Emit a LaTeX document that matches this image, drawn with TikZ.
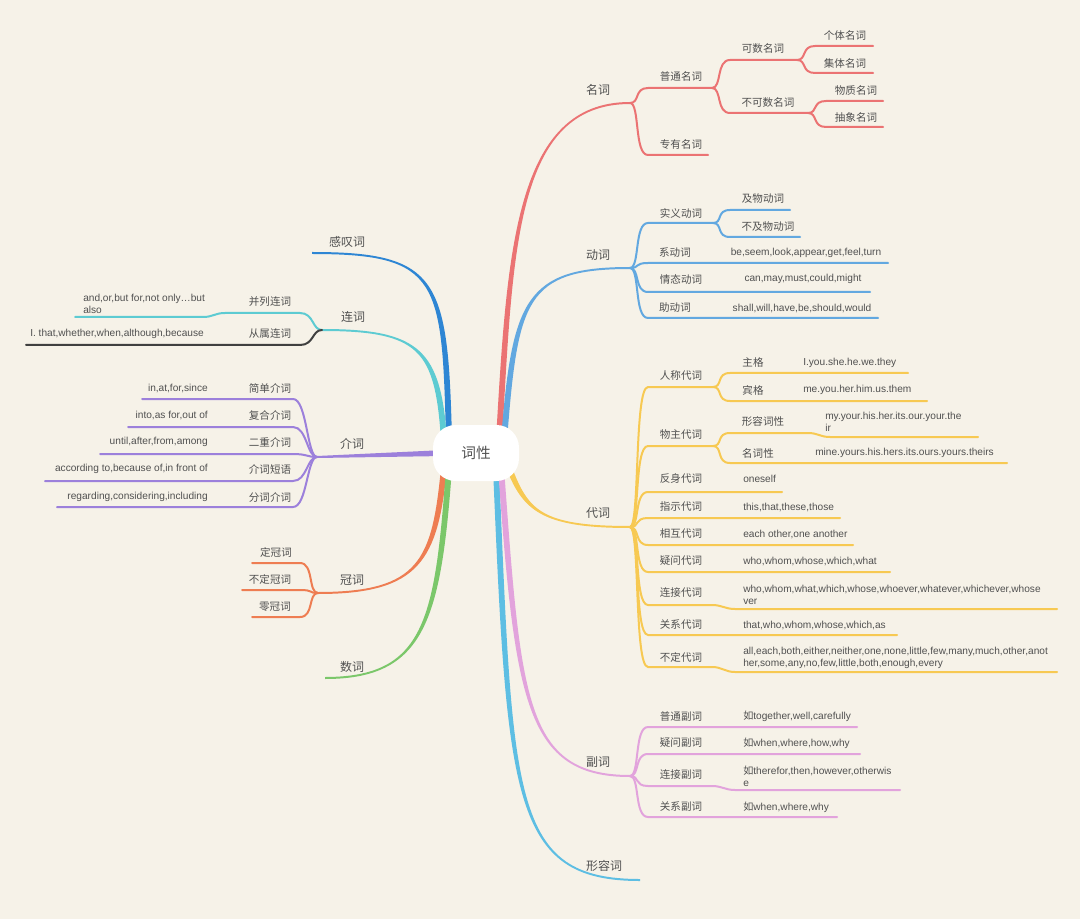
\documentclass[tikz,border=0pt]{standalone}
\usepackage{fontspec}
\setmainfont{Liberation Sans}
\newfontfamily\cjk{Noto Sans CJK SC}
\usetikzlibrary{calc}
\definecolor{bg}{HTML}{F6F2E8}
\definecolor{txt}{HTML}{505050}
\definecolor{cRed}{HTML}{EB7373}
\definecolor{cBlue}{HTML}{62A8E0}
\definecolor{cYellow}{HTML}{F7C952}
\definecolor{cPink}{HTML}{E2A3DC}
\definecolor{cCyan}{HTML}{5DBEE3}
\definecolor{cDeep}{HTML}{2E86D4}
\definecolor{cTeal}{HTML}{5DCBD2}
\definecolor{cPurple}{HTML}{9C80DB}
\definecolor{cOrange}{HTML}{EE7D52}
\definecolor{cGreen}{HTML}{7BC76A}
\definecolor{cDark}{HTML}{404040}
% tapered main branch: outer edge pairs x-w with y-w
\newcommand\taperA[5]{\fill[#1] ($#2+(-3,0)$) .. controls ($#3+(-3,0)$) and ($#4+(0,-1)$) .. ($#5+(0,-1)$) -- ($#5+(0,1)$) .. controls ($#4+(0,1)$) and ($#3+(3,0)$) .. ($#2+(3,0)$) -- cycle;}
% tapered main branch: pairs x-w with y+w
\newcommand\taperB[5]{\fill[#1] ($#2+(-3,0)$) .. controls ($#3+(-3,0)$) and ($#4+(0,1)$) .. ($#5+(0,1)$) -- ($#5+(0,-1)$) .. controls ($#4+(0,-1)$) and ($#3+(3,0)$) .. ($#2+(3,0)$) -- cycle;}
\begin{document}
\begin{tikzpicture}[x=0.75pt,y=-0.75pt,
  cn/.style={font=\cjk\fontsize{7.9}{9.5}\selectfont,text=txt,inner sep=0pt},
  cnbig/.style={font=\cjk\fontsize{9}{11}\selectfont,text=txt,inner sep=0pt},
  en/.style={font=\fontsize{7.6}{9}\selectfont,text=txt,inner sep=0pt,align=left},
  sub/.style={line width=1.5pt,line cap=round}]
\fill[bg] (0,0) rectangle (1080,919);
\useasboundingbox (0,0) rectangle (1080,919);

% fork points
\coordinate (fN) at (630,103);
\coordinate (fV) at (630,268);
\coordinate (fP) at (630,527);
\coordinate (fAdv) at (630,776);
\coordinate (eAdj) at (640,880);
\coordinate (eGt) at (312,253);
\coordinate (fC) at (322,330);
\coordinate (fPr) at (317,457);
\coordinate (fA) at (318,593);
\coordinate (eNum) at (325,678);

% ---------- main branches ----------
\taperA{cRed}{(499,440)}{(510,250)}{(515,103)}{(fN)}
\taperA{cBlue}{(504,440)}{(515,300)}{(525,268)}{(fV)}
\taperB{cYellow}{(508,465)}{(525,510)}{(540,527)}{(fP)}
\taperB{cCyan}{(496,468)}{(510,800)}{(512,880)}{(eAdj)}
\taperB{cPink}{(501,468)}{(518,700)}{(525,776)}{(fAdv)}
\taperB{cDeep}{(449,440)}{(445,280)}{(440,253)}{(eGt)}
\taperB{cTeal}{(444,440)}{(438,350)}{(420,330)}{(fC)}
\taperA{cOrange}{(444,468)}{(435,560)}{(420,593)}{(fA)}
\taperA{cGreen}{(449,468)}{(438,620)}{(425,678)}{(eNum)}
\fill[cPurple] (445,450) -- ($(fPr)+(0,-1)$) -- ($(fPr)+(0,1)$) -- (445,456) -- cycle;

% ---------- 名词 ----------
\draw[sub,cRed] (fN) .. controls +(10,0) and +(-14,0) .. (648,88) -- (712,88) coordinate (fNa);
\draw[sub,cRed] (fN) .. controls +(10,0) and +(-14,0) .. (648,155) -- (708,155);
\draw[sub,cRed] (fNa) .. controls +(10,0) and +(-14,0) .. (730,60) -- (797,60) coordinate (fNb);
\draw[sub,cRed] (fNa) .. controls +(10,0) and +(-14,0) .. (730,113) -- (808,113) coordinate (fNc);
\draw[sub,cRed] (fNb) .. controls +(10,0) and +(-14,0) .. (815,46) -- (873,46);
\draw[sub,cRed] (fNb) .. controls +(10,0) and +(-14,0) .. (815,73) -- (873,73);
\draw[sub,cRed] (fNc) .. controls +(10,0) and +(-14,0) .. (826,101) -- (883,101);
\draw[sub,cRed] (fNc) .. controls +(10,0) and +(-14,0) .. (826,127) -- (883,127);

% ---------- 动词 ----------
\draw[sub,cBlue] (fV) .. controls +(10,0) and +(-14,0) .. (648,223) -- (713,223) coordinate (fVa);
\draw[sub,cBlue] (fVa) .. controls +(10,0) and +(-14,0) .. (730,210) -- (790,210);
\draw[sub,cBlue] (fVa) .. controls +(10,0) and +(-14,0) .. (730,237) -- (800,237);
\draw[sub,cBlue] (fV) .. controls +(10,0) and +(-14,0) .. (648,263) -- (888,263);
\draw[sub,cBlue] (fV) .. controls +(10,0) and +(-14,0) .. (648,292) -- (870,292);
\draw[sub,cBlue] (fV) .. controls +(10,0) and +(-14,0) .. (648,318) -- (878,318);

% ---------- 代词 ----------
\draw[sub,cYellow] (fP) .. controls +(10,0) and +(-14,0) .. (648,387) -- (713,387) coordinate (fPa);
\draw[sub,cYellow] (fPa) .. controls +(10,0) and +(-14,0) .. (730,373) -- (908,373);
\draw[sub,cYellow] (fPa) .. controls +(10,0) and +(-14,0) .. (730,401) -- (927,401);
\draw[sub,cYellow] (fP) .. controls +(10,0) and +(-14,0) .. (648,446) -- (713,446) coordinate (fPb);
\draw[sub,cYellow] (fPb) .. controls +(10,0) and +(-14,0) .. (730,433) -- (808,433) .. controls +(10,0) and +(-10,0) .. (830,437) -- (978,437);
\draw[sub,cYellow] (fPb) .. controls +(10,0) and +(-14,0) .. (730,463) -- (1007,463);
\draw[sub,cYellow] (fP) .. controls +(10,0) and +(-14,0) .. (648,492) -- (782,492);
\draw[sub,cYellow] (fP) .. controls +(10,0) and +(-14,0) .. (648,518) -- (840,518);
\draw[sub,cYellow] (fP) .. controls +(10,0) and +(-14,0) .. (648,545) -- (853,545);
\draw[sub,cYellow] (fP) .. controls +(10,0) and +(-14,0) .. (648,572) -- (890,572);
\draw[sub,cYellow] (fP) .. controls +(10,0) and +(-14,0) .. (648,605) -- (712,605) .. controls +(10,0) and +(-10,0) .. (735,609) -- (1057,609);
\draw[sub,cYellow] (fP) .. controls +(10,0) and +(-14,0) .. (648,635) -- (897,635);
\draw[sub,cYellow] (fP) .. controls +(10,0) and +(-14,0) .. (648,667) -- (712,667) .. controls +(10,0) and +(-10,0) .. (735,672) -- (1057,672);

% ---------- 副词 ----------
\draw[sub,cPink] (fAdv) .. controls +(10,0) and +(-14,0) .. (648,727) -- (857,727);
\draw[sub,cPink] (fAdv) .. controls +(10,0) and +(-14,0) .. (648,754) -- (860,754);
\draw[sub,cPink] (fAdv) .. controls +(10,0) and +(-14,0) .. (648,786) -- (712,786) .. controls +(10,0) and +(-10,0) .. (735,790) -- (900,790);
\draw[sub,cPink] (fAdv) .. controls +(10,0) and +(-14,0) .. (648,817) -- (837,817);

% ---------- 连词 ----------
\draw[sub,cTeal] (fC) .. controls +(-10,0) and +(14,0) .. (300,313) -- (225,313) .. controls +(-10,0) and +(10,0) .. (203,317) -- (75,317);
\draw[sub,cDark] (fC) .. controls +(-10,0) and +(14,0) .. (300,345) -- (26,345);

% ---------- 介词 ----------
\draw[sub,cPurple] (fPr) .. controls +(-10,0) and +(14,0) .. (293,399) -- (142,399);
\draw[sub,cPurple] (fPr) .. controls +(-10,0) and +(14,0) .. (293,427) -- (128,427);
\draw[sub,cPurple] (fPr) .. controls +(-10,0) and +(14,0) .. (293,454) -- (100,454);
\draw[sub,cPurple] (fPr) .. controls +(-10,0) and +(14,0) .. (293,481) -- (45,481);
\draw[sub,cPurple] (fPr) .. controls +(-10,0) and +(14,0) .. (293,507) -- (57,507);

% ---------- 冠词 ----------
\draw[sub,cOrange] (fA) .. controls +(-10,0) and +(14,0) .. (300,563) -- (252,563);
\draw[sub,cOrange] (fA) .. controls +(-10,0) and +(14,0) .. (300,590) -- (242,590);
\draw[sub,cOrange] (fA) .. controls +(-10,0) and +(14,0) .. (300,617) -- (252,617);

% ---------- root ----------
\node[fill=white,rounded corners=17pt,minimum width=64.5pt,minimum height=42pt,
      font=\cjk\fontsize{11}{13}\selectfont,text=txt] (root) at (476,453) {词性};

% ---------- main labels ----------
\node[cnbig] (mingci) at (598,90) {名词};
\node[cnbig] (dongci) at (598,255) {动词};
\node[cnbig] (daici) at (598,513) {代词};
\node[cnbig] (fuci) at (598,762) {副词};
\node[cnbig] (xingrong) at (604,866) {形容词};
\node[cnbig] (gantan) at (347,242) {感叹词};
\node[cnbig] (lianci) at (353,317) {连词};
\node[cnbig] (jieci) at (352,444) {介词};
\node[cnbig] (guanci) at (352,580) {冠词};
\node[cnbig] (shuci) at (352,667) {数词};

% 名词 labels
\node[cn] (putong) at (681,76) {普通名词};
\node[cn] (zhuanyou) at (681,144) {专有名词};
\node[cn] (keshu) at (763,49) {可数名词};
\node[cn] (bukeshu) at (768,103) {不可数名词};
\node[cn] (geti) at (845,35) {个体名词};
\node[cn] (jiti) at (845,63) {集体名词};
\node[cn] (wuzhi) at (856,90) {物质名词};
\node[cn] (chouxiang) at (856,117) {抽象名词};

% 动词 labels
\node[cn] (shiyi) at (681,213) {实义动词};
\node[cn] (jiwu) at (763,199) {及物动词};
\node[cn] (bujiwu) at (768,226) {不及物动词};
\node[cn] (xi) at (675,253) {系动词};
\node[cn] (qingtai) at (681,279) {情态动词};
\node[cn] (zhu) at (675,308) {助动词};
\node[en] (t-xi) at (806,253) {be,seem,look,appear,get,feel,turn};
\node[en] (t-qingtai) at (803,279) {can,may,must,could,might};
\node[en] (t-zhu) at (802,308) {shall,will,have,be,should,would};

% 代词 labels
\node[cn] (renc) at (681,376) {人称代词};
\node[cn] (zhuge) at (753,362) {主格};
\node[cn] (binge) at (753,390) {宾格};
\node[en,anchor=west] (t-zhuge) at (803,363) {I.you.she.he.we.they};
\node[en,anchor=west] (t-binge) at (803,390) {me.you.her.him.us.them};
\node[cn] (wuzhu) at (681,435) {物主代词};
\node[cn] (xingrongx) at (763,421) {形容词性};
\node[cn] (mingcix) at (758,453) {名词性};
\node[en,anchor=west] (t-xingrongx) at (825,422) {my.your.his.her.its.our.your.the\\ir};
\node[en,anchor=west] (t-mingcix) at (815,453) {mine.yours.his.hers.its.ours.yours.theirs};
\node[cn] (fanshen) at (681,479) {反身代词};
\node[en,anchor=west] (t-fanshen) at (743,479) {oneself};
\node[cn] (zhishi) at (681,507) {指示代词};
\node[en,anchor=west] (t-zhishi) at (743,507) {this,that,these,those};
\node[cn] (xianghu) at (681,534) {相互代词};
\node[en,anchor=west] (t-xianghu) at (743,534) {each other,one another};
\node[cn] (yiwen) at (681,561) {疑问代词};
\node[en,anchor=west] (t-yiwen) at (743,561) {who,whom,whose,which,what};
\node[cn] (lianjie) at (681,593) {连接代词};
\node[en,anchor=west] (t-lianjie) at (743,595) {who,whom,what,which,whose,whoever,whatever,whichever,whose\\ver};
\node[cn] (guanxi) at (681,625) {关系代词};
\node[en,anchor=west] (t-guanxi) at (743,625) {that,who,whom,whose,which,as};
\node[cn] (buding) at (681,657) {不定代词};
\node[en,anchor=west] (t-buding) at (743,658) {all,each,both,either,neither,one,none,little,few,many,much,other,anot\\her,some,any,no,few,little,both,enough,every};

% 副词 labels
\node[cn] (putongf) at (681,716) {普通副词};
\node[en,anchor=west] (t-putongf) at (743,716) {{\cjk 如}together,well,carefully};
\node[cn] (yiwenf) at (681,743) {疑问副词};
\node[en,anchor=west] (t-yiwenf) at (743,743) {{\cjk 如}when,where,how,why};
\node[cn] (lianjief) at (681,775) {连接副词};
\node[en,anchor=west] (t-lianjief) at (743,776) {{\cjk 如}therefor,then,however,otherwis\\e};
\node[cn] (guanxif) at (681,807) {关系副词};
\node[en,anchor=west] (t-guanxif) at (743,807) {{\cjk 如}when,where,why};

% 连词 labels
\node[cn] (binglie) at (270,302) {并列连词};
\node[en,anchor=west] (t-binglie) at (83,304) {and,or,but for,not only…but\\also};
\node[cn] (congshu) at (270,334) {从属连词};
\node[en,anchor=west] (t-congshu) at (30,334) {I. that,whether,when,although,because};

% 介词 labels
\node[cn] (jiandan) at (270,388) {简单介词};
\node[en,anchor=east] (t-jiandan) at (208,388) {in,at,for,since};
\node[cn] (fuhe) at (270,415) {复合介词};
\node[en,anchor=east] (t-fuhe) at (208,415) {into,as for,out of};
\node[cn] (erchong) at (270,442) {二重介词};
\node[en,anchor=east] (t-erchong) at (208,442) {until,after,from,among};
\node[cn] (duanyu) at (270,469) {介词短语};
\node[en,anchor=east] (t-duanyu) at (208,469) {according to,because of,in front of};
\node[cn] (fenci) at (270,497) {分词介词};
\node[en,anchor=east] (t-fenci) at (208,497) {regarding,considering,including};

% 冠词 labels
\node[cn] (dingg) at (276,552) {定冠词};
\node[cn] (budingg) at (270,579) {不定冠词};
\node[cn] (lingg) at (275,607) {零冠词};
\end{tikzpicture}
\end{document}
